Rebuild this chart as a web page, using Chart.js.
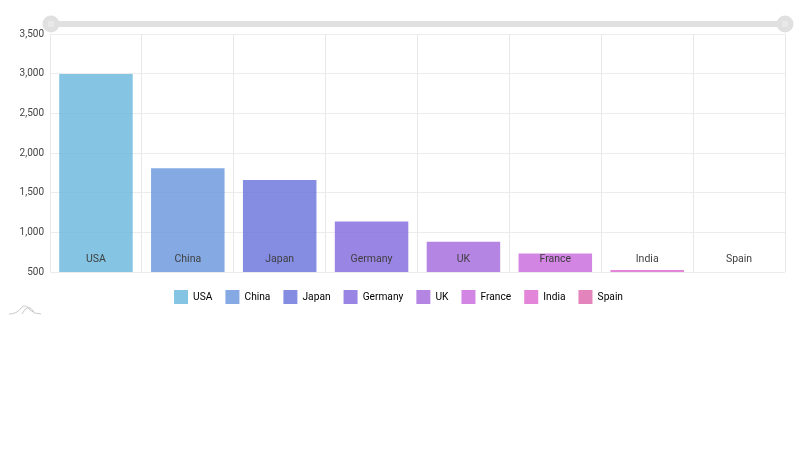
<!DOCTYPE html>
<html>
<head>
<meta charset="utf-8">
<script src="https://cdn.jsdelivr.net/npm/chart.js@4"></script>
<style>
  html, body { margin: 0; padding: 0; background: #fff; }
  #wrap { position: relative; width: 800px; height: 320px; }
</style>
</head>
<body>
<div id="wrap"><canvas id="bar-chart"></canvas></div>
<script>
// data
const countries = ["USA", "China", "Japan", "Germany", "UK", "France", "India", "Spain"];
const visits = [2995, 1808, 1661, 1137, 880, 732, 525, 480];
const yMin = 500, yMax = 3500, yStep = 500;
const palette = ["#67b7dc", "#6794dc", "#6771dc", "#8067dc", "#a367dc", "#c767dc", "#dc67ce", "#dc67ab"];

function fade(hex, a) {
  const n = parseInt(hex.slice(1), 16);
  return "rgba(" + (n >> 16) + "," + ((n >> 8) & 255) + "," + (n & 255) + "," + a + ")";
}
const fills = palette.map(c => fade(c, 0.8));

Chart.defaults.font.family = "Roboto, sans-serif";
Chart.defaults.font.size = 10;
Chart.defaults.color = "#444";

// scrollbar on top + labels in the bars + little logo
const extras = {
  id: "extras",
  afterDatasetsDraw(chart) {
    const {ctx, chartArea: a, scales: {x}} = chart;
    ctx.save();
    ctx.fillStyle = "#3f3f3f";
    ctx.font = "10.5px Roboto, sans-serif";
    ctx.textAlign = "center";
    ctx.textBaseline = "middle";
    countries.forEach((c, i) => ctx.fillText(c, x.getPixelForValue(i), a.bottom - 13));
    ctx.restore();
  },
  afterDraw(chart) {
    const {ctx, chartArea: a} = chart;
    ctx.save();
    ctx.fillStyle = "#e0e0e0";
    ctx.beginPath();
    ctx.roundRect(a.left, 21, a.right - a.left, 6, 3);
    ctx.fill();
    [a.left + 1, a.right].forEach(cx => {
      ctx.fillStyle = "#e0e0e0";
      ctx.beginPath();
      ctx.arc(cx, 24, 8.5, 0, Math.PI * 2);
      ctx.fill();
      ctx.strokeStyle = "#f0f0f0";
      ctx.lineWidth = 1;
      [-2, 0, 2].forEach(d => {
        ctx.beginPath();
        ctx.moveTo(cx + d, 21);
        ctx.lineTo(cx + d, 27);
        ctx.stroke();
      });
    });
    // logo
    ctx.strokeStyle = "#bbb";
    ctx.lineWidth = 0.8;
    ctx.beginPath();
    ctx.moveTo(9, 314);
    ctx.quadraticCurveTo(17, 314, 21, 308);
    ctx.quadraticCurveTo(25, 303, 30, 310);
    ctx.quadraticCurveTo(34, 314, 41, 314);
    ctx.moveTo(22, 314);
    ctx.quadraticCurveTo(28, 302, 34, 312);
    ctx.stroke();
    ctx.restore();
  }
};

new Chart(document.getElementById("bar-chart"), {
  type: "bar",
  data: {
    labels: countries,
    datasets: [{
      label: "Visits",
      data: visits,
      backgroundColor: fills,
      borderWidth: 0,
      barPercentage: 0.8,
      categoryPercentage: 1
    }]
  },
  options: {
    responsive: true,
    maintainAspectRatio: false,
    animation: false,
    layout: { padding: { top: 34, right: 15, left: 12, bottom: 6 } },
    plugins: {
      tooltip: { enabled: false },
      legend: {
        position: "bottom",
        labels: {
          boxWidth: 14,
          boxHeight: 14,
          padding: 13,
          color: "#333",
          font: { size: 10.2 },
          useBorderRadius: true,
          borderRadius: 3,
          generateLabels: () => countries.map((c, i) => ({
            text: c,
            fillStyle: fills[i],
            strokeStyle: fills[i],
            lineWidth: 0,
            hidden: false,
            index: i
          }))
        }
      }
    },
    scales: {
      x: {
        afterFit: s => { s.height = 5; },
        grid: { color: "#e8e8e8", drawTicks: false, offset: true },
        border: { display: false },
        ticks: { display: false }
      },
      y: {
        min: yMin,
        max: yMax,
        afterFit: s => { s.width = 38; },
        grid: { color: "#ececec", drawTicks: false },
        border: { display: false },
        ticks: {
          stepSize: yStep,
          padding: 6,
          color: "#444",
          font: { size: 10 },
          callback: v => v.toLocaleString("en-US")
        }
      }
    }
  },
  plugins: [extras]
});
</script>
</body>
</html>
